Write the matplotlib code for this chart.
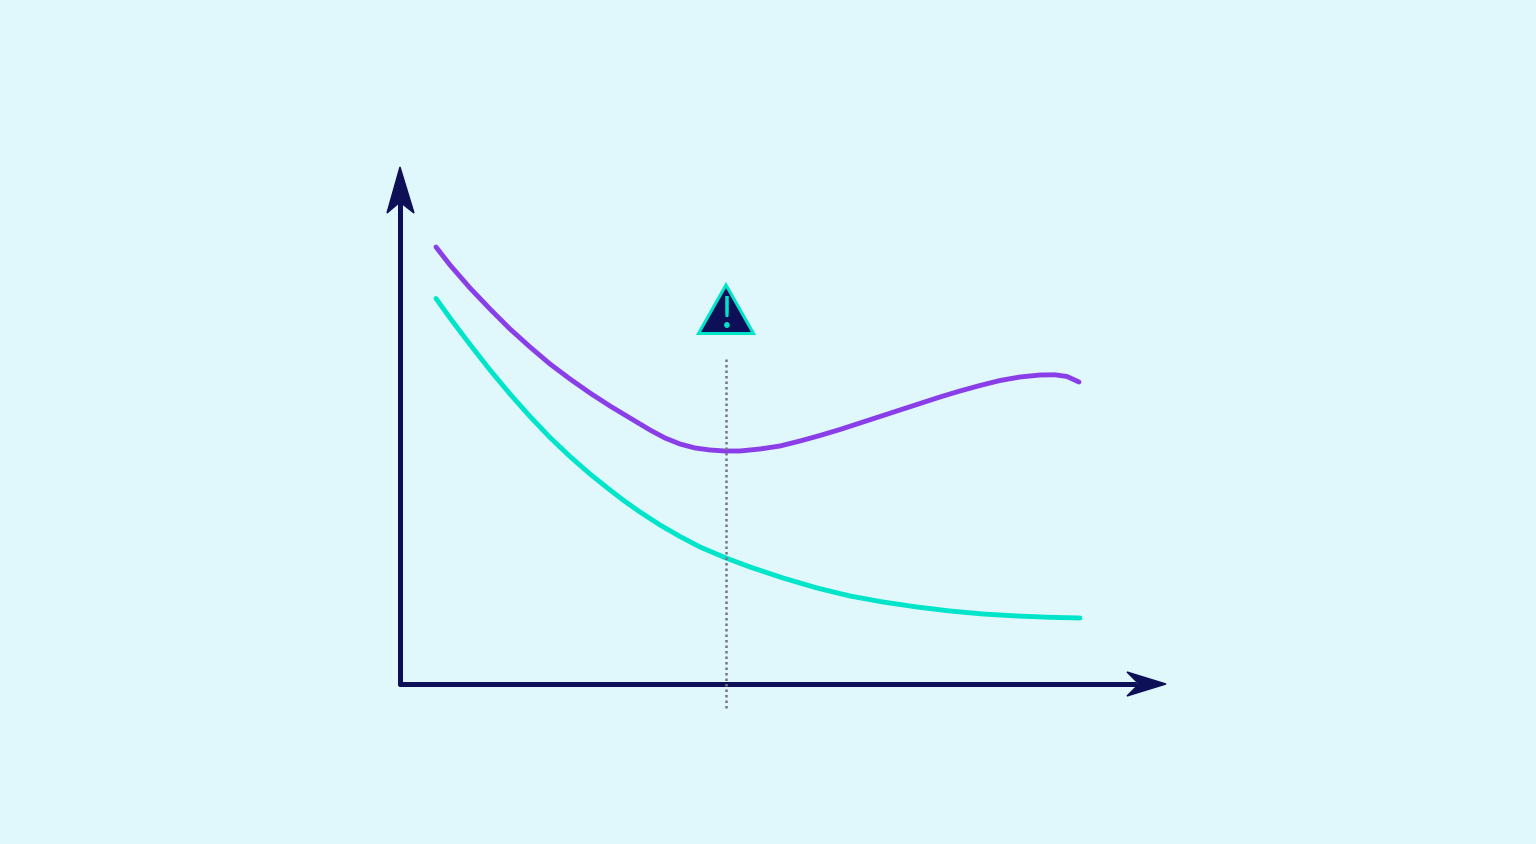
import matplotlib.pyplot as plt
from matplotlib.patches import Polygon

# curve readings, chart units (x 0-765, y 0-516)
purple_x = [36, 50, 70, 90, 110, 130, 150, 170, 190, 210, 230, 250, 265, 280, 295, 310, 325, 340,
            360, 380, 400, 420, 440, 460, 480, 500, 520, 540, 560, 580, 600, 620, 640, 655, 667, 679]
purple_y = [437, 419, 396, 375, 355, 337, 320, 305, 291, 278, 266, 254, 246, 240, 236, 234, 233,
            233, 235, 238, 243, 248.5, 254.5, 261, 267.5, 274, 280.5, 287, 293, 298.5, 303.5, 307,
            309, 309.2, 307.5, 302]
teal_x = [36, 50, 70, 90, 110, 130, 150, 170, 190, 210, 225, 240, 260, 280, 300, 326, 350, 383,
          417, 450, 483, 517, 550, 583, 617, 650, 680]
teal_y = [385.5, 366, 339.5, 314, 290, 267.5, 246.5, 227.5, 210, 194, 182.5, 172, 159, 147.5, 137,
          126, 117, 106, 96, 88, 82, 77, 73, 70, 68, 66.7, 66]
marker_x = 326

BG = "#e0f7fc"
NAVY = "#0d1057"
PURPLE = "#8a3ee8"
TEAL = "#00e4ca"

fig = plt.figure(figsize=(15.36, 8.44), dpi=100, facecolor=BG)
ax = fig.add_axes([400 / 1536, 160 / 844, 765 / 1536, 516 / 844])
ax.set_xlim(0, 765)
ax.set_ylim(0, 516)
ax.axis("off")

# axes with notched arrowheads
ax.plot([0, 0], [0, 485], color=NAVY, lw=3.6, solid_capstyle="round", clip_on=False)
ax.plot([0, 735], [0, 0], color=NAVY, lw=3.6, solid_capstyle="round", clip_on=False)
ax.add_patch(Polygon([(0, 517), (-13, 471), (0, 482), (14, 471)],
                     closed=True, color=NAVY, clip_on=False))
ax.add_patch(Polygon([(766, 0), (727, 12), (739, 0), (727, -12)],
                     closed=True, color=NAVY, clip_on=False))

ax.plot(purple_x, purple_y, color=PURPLE, lw=3.5, solid_capstyle="round", solid_joinstyle="round")
ax.plot(teal_x, teal_y, color=TEAL, lw=3.5, solid_capstyle="round", solid_joinstyle="round")

ax.plot([marker_x, marker_x], [-24, 326], color="#777782", lw=1.8, ls=(0, (1, 1.2)),
        clip_on=False)

# warning sign
ax.add_patch(Polygon([(marker_x, 399), (marker_x - 27.5, 350.5), (marker_x + 27.5, 350.5)],
                     closed=True, facecolor=NAVY, edgecolor=TEAL, lw=2.2, joinstyle="miter"))
ax.text(marker_x + 0.5, 369, "!", color=TEAL, fontsize=32, ha="center", va="center",
        family="Lato")

fig.savefig("out.png", dpi=100, facecolor=BG)
